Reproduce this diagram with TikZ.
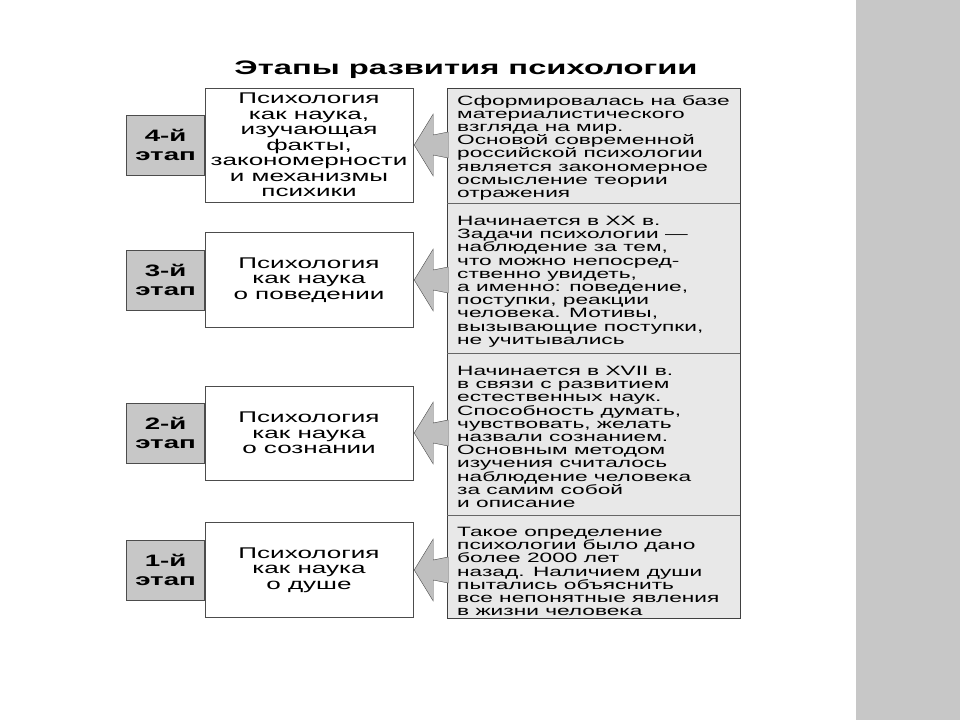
\documentclass[tikz,border=0pt]{standalone}
\usepackage{fontspec}
\setmainfont{Liberation Sans}[FakeStretch=1.68]
\usetikzlibrary{calc}

\tikzset{
  stagebox/.style={draw=black!70,fill=black!22,minimum width=78pt,minimum height=60pt,
    font=\fontsize{16.5}{18.5}\selectfont\bfseries,align=center,inner sep=0pt},
  namebox/.style={draw=black!70,fill=white,minimum width=208pt,align=center,
    font=\fontsize{15.5}{15.5}\selectfont,inner sep=0pt},
  notetext/.style={anchor=north west,align=left,inner sep=0pt,
    font=\fontsize{13.5}{13.2}\selectfont},
  leftarrow/.style={draw=black!70,fill=black!25}
}

\begin{document}
\begin{tikzpicture}[x=1pt,y=-1pt]
  \useasboundingbox (0,0) rectangle (960,720);
  \fill[white] (0,0) rectangle (960,720);
  \fill[black!22] (856,0) rectangle (960,720);

  \node (title) at (466,70) {\fontsize{19.5}{21}\selectfont\bfseries Этапы развития психологии};

  % right column
  \draw[draw=black!75,fill=black!9,line width=0.8pt] (447,88) rectangle (740,618);
  \draw[black!60] (447,203) -- (740,203);
  \draw[black!60] (447,353) -- (740,353);
  \draw[black!60] (447,515) -- (740,515);

  \node[notetext] (n4) at (457,95) {Сформировалась на базе\\материалистического\\взгляда на мир.\\Основой современной\\российской психологии\\является закономерное\\осмысление теории\\отражения};
  \node[notetext] (n3) at (457,216) {Начинается в XX в.\\Задачи психологии —\\наблюдение за тем,\\что можно непосред-\\ственно увидеть,\\а именно: поведение,\\поступки, реакции\\человека. Мотивы,\\вызывающие поступки,\\не учитывались};
  \node[notetext] (n2) at (457,366) {Начинается в XVII в.\\в связи с развитием\\естественных наук.\\Способность думать,\\чувствовать, желать\\назвали сознанием.\\Основным методом\\изучения считалось\\наблюдение человека\\за самим собой\\и описание};
  \node[notetext] (n1) at (457,527) {Такое определение\\психологии было дано\\более 2000 лет\\назад. Наличием души\\пытались объяснить\\все непонятные явления\\в жизни человека};

  % stages
  \node[namebox,minimum height=114pt] (m4) at (309,145) {Психология\\как наука,\\изучающая\\факты,\\закономерности\\и механизмы\\психики};
  \node[namebox,minimum height=95pt] (m3) at (309,280) {Психология\\как наука\\о поведении};
  \node[namebox,minimum height=94pt] (m2) at (309,433) {Психология\\как наука\\о сознании};
  \node[namebox,minimum height=95pt] (m1) at (309,570) {Психология\\как наука\\о душе};

  \node[stagebox,anchor=east] (s4) at (m4.west) {4-й\\этап};
  \node[stagebox,anchor=east] (s3) at (m3.west) {3-й\\этап};
  \node[stagebox,anchor=east] (s2) at (m2.west) {2-й\\этап};
  \node[stagebox,anchor=east] (s1) at (m1.west) {1-й\\этап};

  % arrows
  \foreach \m in {m4,m3,m2,m1}
    \draw[leftarrow] ($(\m.east)+(1,0)$) -- ++(19,-31) -- ++(0,21) -- ++(15,-3)
      -- ++(0,26) -- ++(-15,-3) -- ++(0,21) -- cycle;
\end{tikzpicture}
\end{document}
